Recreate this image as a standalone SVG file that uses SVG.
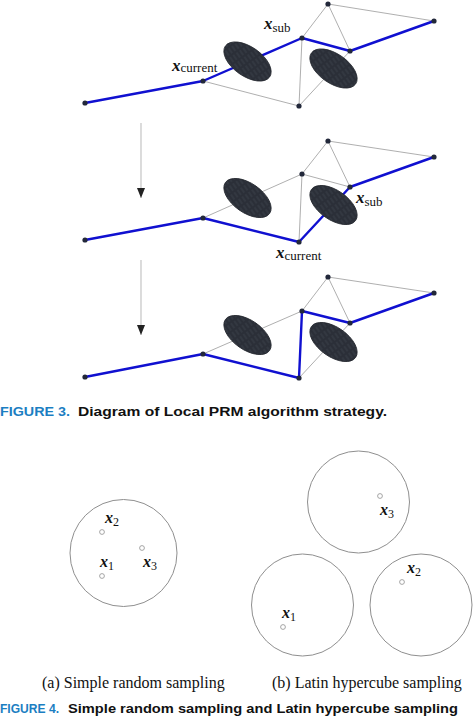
<svg xmlns="http://www.w3.org/2000/svg" width="474" height="717" viewBox="0 0 474 717">
<defs>
<pattern id="tex" patternUnits="userSpaceOnUse" width="8" height="4" patternTransform="rotate(20)">
<rect width="8" height="4" fill="#2b2f38"/>
<line x1="0" y1="1" x2="6" y2="1" stroke="#474c57" stroke-width="0.6"/>
</pattern>
<marker id="ah" markerWidth="10" markerHeight="8" refX="10" refY="4" orient="auto" markerUnits="userSpaceOnUse">
<path d="M0,0 L10,4 L0,8 Z" fill="#222"/>
</marker>
</defs>
<style>
.blue{fill:none;stroke:#1010d0;stroke-width:2.4;stroke-linejoin:round}
.gray{fill:none;stroke:#9a9a9a;stroke-width:0.8}
.obs{fill:url(#tex);stroke:#23262d;stroke-width:0.8}
.nd{fill:#22283a}
.lx{font-family:"Liberation Serif",serif;font-style:italic;font-weight:bold;font-size:17px;fill:#111}
.ls{font-family:"Liberation Serif",serif;font-size:13px;fill:#111}
.sx{font-family:"Liberation Serif",serif;font-style:italic;font-weight:bold;font-size:16px;fill:#111}
.sd{font-family:"Liberation Serif",serif;font-size:12px;fill:#111}
.cap{font-family:"Liberation Sans",Arial,sans-serif;font-weight:bold;font-size:13.5px}
.sub{font-family:"Liberation Serif",serif;font-size:16px;fill:#111}
.ring{fill:none;stroke:#8f8f8f;stroke-width:1}
.pt{fill:#fff;stroke:#8f8f8f;stroke-width:0.8}
.arr{stroke:#d8d8d8;stroke-width:1.8}
</style>

<g id="connectors">
<line class="arr" x1="141" y1="123" x2="141" y2="198" marker-end="url(#ah)"/>
<line class="arr" x1="141" y1="260" x2="141" y2="335" marker-end="url(#ah)"/>
<g id="edges1">
<polyline class="gray" points="203,81 299,106 302,38 328,4 350,51"/>
<line class="gray" x1="328" y1="4" x2="434" y2="21"/>
<line class="gray" x1="299" y1="106" x2="350" y2="51"/>
<polyline class="blue" points="85,103 203,81 302,38 350,51 434,21"/>
</g>
<g id="edges2" transform="translate(0,137)">
<polyline class="gray" points="203,81 302,37 328,4 350,50"/>
<line class="gray" x1="328" y1="4" x2="434" y2="20"/>
<line class="gray" x1="302" y1="37" x2="350" y2="50"/>
<line class="gray" x1="302" y1="37" x2="299" y2="105"/>
<polyline class="blue" points="85,103 203,81 299,105 350,50 434,20"/>
</g>
<g id="edges3" transform="translate(0,273)">
<polyline class="gray" points="203,81 302,38 328,4 350,50"/>
<line class="gray" x1="328" y1="4" x2="434" y2="20"/>
<line class="gray" x1="299" y1="105" x2="350" y2="50"/>
<polyline class="blue" points="85,104 203,81 299,105 302,38 350,50 434,20"/>
</g>
</g>

<g id="panel1">
<ellipse id="obs1a" class="obs" cx="247.5" cy="61.5" rx="27" ry="14.6" transform="rotate(35 247.5 61.5)"/>
<ellipse id="obs1b" class="obs" cx="333.5" cy="68.5" rx="27" ry="14.6" transform="rotate(35 333.5 68.5)"/>
<circle id="n1A" class="nd" cx="85" cy="103" r="2.6"/>
<circle id="n1C" class="nd" cx="203" cy="81" r="2.6"/>
<circle id="n1S" class="nd" cx="302" cy="38" r="2.6"/>
<circle id="n1T" class="nd" cx="328" cy="4" r="2.6"/>
<circle id="n1N" class="nd" cx="350" cy="51" r="2.6"/>
<circle id="n1R" class="nd" cx="434" cy="21" r="2.6"/>
<circle id="n1B" class="nd" cx="299" cy="106" r="2.6"/>
<text x="172" y="71"><tspan class="lx">x</tspan><tspan class="ls" dy="1">current</tspan></text>
<text x="264" y="29"><tspan class="lx">x</tspan><tspan class="ls" dy="3">sub</tspan></text>
</g>

<g id="panel2">
<ellipse id="obs2a" class="obs" cx="247.5" cy="198" rx="27" ry="14.6" transform="rotate(35 247.5 198)"/>
<ellipse id="obs2b" class="obs" cx="333.5" cy="205" rx="27" ry="14.6" transform="rotate(35 333.5 205)"/>
<circle id="n2A" class="nd" cx="85" cy="240" r="2.6"/>
<circle id="n2C" class="nd" cx="203" cy="218" r="2.6"/>
<circle id="n2S" class="nd" cx="302" cy="174" r="2.6"/>
<circle id="n2T" class="nd" cx="328" cy="141" r="2.6"/>
<circle id="n2N" class="nd" cx="350" cy="187" r="2.6"/>
<circle id="n2R" class="nd" cx="434" cy="157" r="2.6"/>
<circle id="n2B" class="nd" cx="299" cy="242" r="2.6"/>
<text x="356" y="203"><tspan class="lx">x</tspan><tspan class="ls" dy="3">sub</tspan></text>
<text x="276" y="258"><tspan class="lx">x</tspan><tspan class="ls" dy="2">current</tspan></text>
</g>

<g id="panel3">
<ellipse id="obs3a" class="obs" cx="247.5" cy="335" rx="27" ry="14.6" transform="rotate(35 247.5 335)"/>
<ellipse id="obs3b" class="obs" cx="333.5" cy="342" rx="27" ry="14.6" transform="rotate(35 333.5 342)"/>
<circle id="n3A" class="nd" cx="85" cy="377" r="2.6"/>
<circle id="n3C" class="nd" cx="203" cy="354" r="2.6"/>
<circle id="n3S" class="nd" cx="302" cy="311" r="2.6"/>
<circle id="n3T" class="nd" cx="328" cy="277" r="2.6"/>
<circle id="n3N" class="nd" cx="350" cy="323" r="2.6"/>
<circle id="n3R" class="nd" cx="434" cy="293" r="2.6"/>
<circle id="n3B" class="nd" cx="299" cy="378" r="2.6"/>
</g>

<g id="caption3">
<text class="cap" x="0" y="416" fill="#1b7ec2" textLength="70" lengthAdjust="spacingAndGlyphs">FIGURE 3.</text>
<text class="cap" x="78" y="416" fill="#111" textLength="309" lengthAdjust="spacingAndGlyphs">Diagram of Local PRM algorithm strategy.</text>
</g>

<g id="sampleA">
<circle class="ring" cx="123.5" cy="553" r="53.5"/>
<circle class="pt" cx="102" cy="532" r="2.4"/>
<circle class="pt" cx="142" cy="548" r="2.4"/>
<circle class="pt" cx="102" cy="576" r="2.4"/>
<text x="105" y="523"><tspan class="sx">x</tspan><tspan class="sd" dy="3">2</tspan></text>
<text x="100" y="567"><tspan class="sx">x</tspan><tspan class="sd" dy="3">1</tspan></text>
<text x="143" y="567"><tspan class="sx">x</tspan><tspan class="sd" dy="3">3</tspan></text>
</g>

<g id="sampleB">
<circle class="ring" cx="358.5" cy="502" r="51"/>
<circle class="ring" cx="302.5" cy="605" r="51"/>
<circle class="ring" cx="421" cy="605" r="51"/>
<circle class="pt" cx="380" cy="496" r="2.4"/>
<circle class="pt" cx="283" cy="627" r="2.4"/>
<circle class="pt" cx="402" cy="582" r="2.4"/>
<text x="380" y="515"><tspan class="sx">x</tspan><tspan class="sd" dy="3">3</tspan></text>
<text x="282" y="618"><tspan class="sx">x</tspan><tspan class="sd" dy="3">1</tspan></text>
<text x="407" y="573"><tspan class="sx">x</tspan><tspan class="sd" dy="3">2</tspan></text>
</g>

<g id="subcaptions">
<text class="sub" x="42" y="688">(a) Simple random sampling</text>
<text class="sub" x="272" y="688">(b) Latin hypercube sampling</text>
</g>

<g id="caption4">
<text class="cap" x="0" y="713" fill="#1b7ec2" textLength="59" lengthAdjust="spacingAndGlyphs">FIGURE 4.</text>
<text class="cap" x="68" y="713" fill="#111" textLength="390" lengthAdjust="spacingAndGlyphs">Simple random sampling and Latin hypercube sampling</text>
</g>
</svg>
